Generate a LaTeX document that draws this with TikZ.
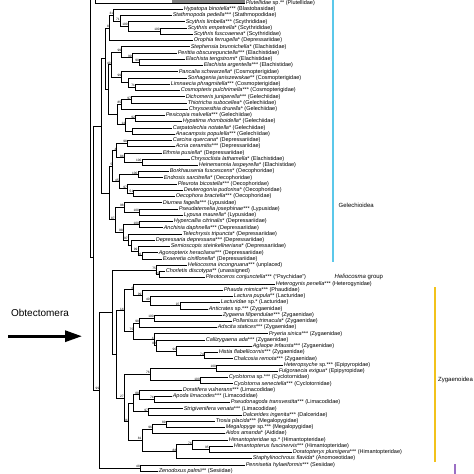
\documentclass[tikz,border=0pt]{standalone}
\usepackage{fontspec}
\setmainfont{Liberation Sans}
\usetikzlibrary{arrows.meta}
\newcommand{\taxon}[1]{\textit{#1}}
\definecolor{gelbar}{HTML}{5BC8EA}
\definecolor{zygbar}{HTML}{F2C21B}
\definecolor{sesbar}{HTML}{9B6FC4}

\begin{document}
\begin{tikzpicture}[x=1pt, y=-6.24pt,
    leaf/.style={anchor=west, inner sep=0.6pt, font=\fontsize{5.5}{6}\selectfont},
    bs/.style={font=\fontsize{3.2}{3.5}\selectfont, inner sep=0.2pt},
    br/.style={line width=0.45pt},
    cladelab/.style={anchor=west, inner sep=0.5pt, font=\fontsize{6}{7}\selectfont}]
  \useasboundingbox (0,-0.48) rectangle (474,75.48);

  % leaves, one row each
  \node[leaf] (k0) at (245,0) {\taxon{Plutellidae} sp.** (Plutellidae)};
  \node[leaf] (k1) at (183,1) {\taxon{Hypatopa binotella}*** (Blastobasidae)};
  \node[leaf] (k2) at (172,2) {\taxon{Stathmopoda pedella}*** (Stathmopodidae)};
  \node[leaf] (k3) at (185,3) {\taxon{Scythris limbella}*** (Scythrididae)};
  \node[leaf] (k4) at (187,4) {\taxon{Scythris empetrella}* (Scythrididae)};
  \node[leaf] (k5) at (193,5) {\taxon{Scythris fuscoaenea}* (Scythrididae)};
  \node[leaf] (k6) at (193,6) {\taxon{Orophia ferrugella}* (Depressariidae)};
  \node[leaf] (k7) at (190,7) {\taxon{Stephensia brunnichella}* (Elachistidae)};
  \node[leaf] (k8) at (177,8) {\taxon{Perittia obscurepunctella}*** (Elachistidae)};
  \node[leaf] (k9) at (185,9) {\taxon{Elachista tengstromi}* (Elachistidae)};
  \node[leaf] (k10) at (203,10) {\taxon{Elachista argentella}*** (Elachistidae)};
  \node[leaf] (k11) at (178,11) {\taxon{Pancalia schwarzella}* (Cosmopterigidae)};
  \node[leaf] (k12) at (187,12) {\taxon{Sorhagenia janiszewskae}** (Cosmopterigidae)};
  \node[leaf] (k13) at (170,13) {\taxon{Limnaecia phragmitella}*** (Cosmopterigidae)};
  \node[leaf] (k14) at (180,14) {\taxon{Cosmopterix pulchrimella}*** (Cosmopterigidae)};
  \node[leaf] (k15) at (185,15) {\taxon{Dichomeris juniperella}*** (Gelechiidae)};
  \node[leaf] (k16) at (187,16) {\taxon{Thiotricha subocellea}* (Gelechiidae)};
  \node[leaf] (k17) at (188,17) {\taxon{Chrysoesthia drurella}* (Gelechiidae)};
  \node[leaf] (k18) at (165,18) {\taxon{Pexicopia malvella}*** (Gelechiidae)};
  \node[leaf] (k19) at (182,19) {\taxon{Hypatima rhomboidella}* (Gelechiidae)};
  \node[leaf] (k20) at (172,20) {\taxon{Carpatolechia notatella}* (Gelechiidae)};
  \node[leaf] (k21) at (175,21) {\taxon{Anacampsis populella}*** (Gelechiidae)};
  \node[leaf] (k22) at (172,22) {\taxon{Carcina quercana}* (Depressariidae)};
  \node[leaf] (k23) at (175,23) {\taxon{Acria ceramitis}*** (Depressariidae)};
  \node[leaf] (k24) at (162,24) {\taxon{Ethmia pusiella}* (Depressariidae)};
  \node[leaf] (k25) at (190,25) {\taxon{Chrysoclista lathamella}* (Elachistidae)};
  \node[leaf] (k26) at (198,26) {\taxon{Heinemannia laspeyrella}* (Elachistidae)};
  \node[leaf] (k27) at (169,27) {\taxon{Borkhausenia fuscescens}* (Oecophoridae)};
  \node[leaf] (k28) at (163,28) {\taxon{Endrosis sarcitrella}* (Oecophoridae)};
  \node[leaf] (k29) at (177,29) {\taxon{Pleurota bicostella}*** (Oecophoridae)};
  \node[leaf] (k30) at (183,30) {\taxon{Deuterogonia pudorina}* (Oecophoridae)};
  \node[leaf] (k31) at (175,31) {\taxon{Oecophora bractella}*** (Oecophoridae)};
  \node[leaf] (k32) at (162,32) {\taxon{Diurnea fagella}*** (Lypusidae)};
  \node[leaf] (k33) at (178,33) {\taxon{Pseudatemelia josephinae}*** (Lypusidae)};
  \node[leaf] (k34) at (183,34) {\taxon{Lypusa maurella}* (Lypusidae)};
  \node[leaf] (k35) at (173,35) {\taxon{Hypercallia citrinalis}* (Depressariidae)};
  \node[leaf] (k36) at (163,36) {\taxon{Anchinia daphnella}*** (Depressariidae)};
  \node[leaf] (k37) at (182,37) {\taxon{Telechrysis tripuncta}* (Depressariidae)};
  \node[leaf] (k38) at (155,38) {\taxon{Depressaria depressana}*** (Depressariidae)};
  \node[leaf] (k39) at (170,39) {\taxon{Semioscopis steinkellneriana}* (Depressariidae)};
  \node[leaf] (k40) at (158,40) {\taxon{Agonopterix heracliana}*** (Depressariidae)};
  \node[leaf] (k41) at (162,41) {\taxon{Exaeretia ciniflonella}* (Depressariidae)};
  \node[leaf] (k42) at (187,42) {\taxon{Heliocosma incongruana}*** (unplaced)};
  \node[leaf] (k43) at (165,43) {\taxon{Chorletis discotypa}** (unassigned)};
  \node[leaf] (k44) at (205,44) {\taxon{Pleotoceros conjunctella}*** (``Psychidae'')};
  \node[leaf] (k45) at (275,45) {\taxon{Heterogynis penella}*** (Heterogynidae)};
  \node[leaf] (k46) at (223,46) {\taxon{Phauda mimica}*** (Phaudidae)};
  \node[leaf] (k47) at (233,47) {\taxon{Lactura pupula}** (Lacturidae)};
  \node[leaf] (k48) at (220,48) {\taxon{Lacturidae} sp.* (Lacturidae)};
  \node[leaf] (k49) at (208,49) {\taxon{Anticrates} sp.*** (Zygaenidae)};
  \node[leaf] (k50) at (222,50) {\taxon{Zygaena filipendulae}*** (Zygaenidae)};
  \node[leaf] (k51) at (232,51) {\taxon{Pollanisus trimacula}* (Zygaenidae)};
  \node[leaf] (k52) at (217,52) {\taxon{Adscita statices}*** (Zygaenidae)};
  \node[leaf] (k53) at (268,53) {\taxon{Pryeria sinica}*** (Zygaenidae)};
  \node[leaf] (k54) at (205,54) {\taxon{Callizygaena ada}*** (Zygaenidae)};
  \node[leaf] (k55) at (252,55) {\taxon{Aglaope infausta}*** (Zygaenidae)};
  \node[leaf] (k56) at (218,56) {\taxon{Histia flabellicornis}*** (Zygaenidae)};
  \node[leaf] (k57) at (233,57) {\taxon{Chalcosia remota}*** (Zygaenidae)};
  \node[leaf] (k58) at (283,58) {\taxon{Heteropsyche} sp.*** (Epipyropidae)};
  \node[leaf] (k59) at (278,59) {\taxon{Fulgoraecia exigua}* (Epipyropidae)};
  \node[leaf] (k60) at (228,60) {\taxon{Cyclotorna} sp.*** (Cyclotornidae)};
  \node[leaf] (k61) at (233,61) {\taxon{Cyclotorna senectella}*** (Cyclotornidae)};
  \node[leaf] (k62) at (182,62) {\taxon{Doratifera vulnerans}*** (Limacodidae)};
  \node[leaf] (k63) at (172,63) {\taxon{Apoda limacodes}*** (Limacodidae)};
  \node[leaf] (k64) at (230,64) {\taxon{Pseudonagoda transvestita}*** (Limacodidae)};
  \node[leaf] (k65) at (183,65) {\taxon{Strigivenifera venata}*** (Limacodidae)};
  \node[leaf] (k66) at (242,66) {\taxon{Dalcerides ingenita}*** (Dalceridae)};
  \node[leaf] (k67) at (215,67) {\taxon{Trosia placida}*** (Megalopygidae)};
  \node[leaf] (k68) at (225,68) {\taxon{Megalopyge} sp.*** (Megalopygidae)};
  \node[leaf] (k69) at (225,69) {\taxon{Aidos amanda}* (Aididae)};
  \node[leaf] (k70) at (228,70) {\taxon{Himantopteridae} sp.* (Himantopteridae)};
  \node[leaf] (k71) at (233,71) {\taxon{Himantopterus fuscinervis}*** (Himantopteridae)};
  \node[leaf] (k72) at (292,72) {\taxon{Doratopteryx plumigera}*** (Himantopteridae)};
  \node[leaf] (k73) at (252,73) {\taxon{Staphylinochrous flavida}* (Anomoeotidae)};
  \node[leaf] (k74) at (245,74) {\taxon{Pennisetia hylaeiformis}*** (Sesiidae)};
  \node[leaf] (k75) at (158,75) {\taxon{Zenodoxus palmii}** (Sesiidae)};

  % inner nodes, support above left
  \coordinate[label={[bs]above left:100}] (cs2) at (160,4.5);
  \coordinate[label={[bs]above left:100}] (cs1) at (128,3.75);
  \coordinate[label={[bs]above left:71}] (csta) at (120,2.875);
  \coordinate[label={[bs]above left:31}] (chyp) at (113.5,1.94);
  \coordinate[label={[bs]above left:8}] (u1) at (109.4,3.97);
  \coordinate[label={[bs]above left:99}] (e1) at (139.4,9.5);
  \coordinate[label={[bs]above left:99}] (e2) at (132,8.75);
  \coordinate[label={[bs]above left:99}] (e3) at (121.6,7.875);
  \coordinate[label={[bs]above left:71}] (co1) at (135.4,13.5);
  \coordinate (co2) at (128,12.75);
  \coordinate[label={[bs]above left:99}] (co3) at (121.6,11.875);
  \coordinate[label={[bs]above left:40}] (u2) at (111,9.875);
  \coordinate[label={[bs]above left:97}] (ge1) at (131.3,15.5);
  \coordinate[label={[bs]above left:85}] (ge2) at (121.6,16.25);
  \coordinate[label={[bs]above left:92}] (ge3) at (135.4,18.5);
  \coordinate (ge4) at (132,20.5);
  \coordinate[label={[bs]above left:14}] (ge5) at (125.6,19.5);
  \coordinate (ge6) at (117.5,17.875);
  \coordinate (u3) at (107.8,13.875);
  \coordinate (u4) at (105.4,8.92);
  \coordinate[label={[bs]above left:98}] (d1) at (127.3,22.5);
  \coordinate[label={[bs]above left:100}] (el1) at (141.8,25.5);
  \coordinate[label={[bs]above left:84}] (d2) at (124,24.75);
  \coordinate[label={[bs]above left:4}] (d3) at (116.7,23.625);
  \coordinate[label={[bs]above left:100}] (o1) at (137.8,27.5);
  \coordinate[label={[bs]above left:51}] (o2) at (133.7,30.5);
  \coordinate[label={[bs]above left:97}] (o3) at (127.3,29.75);
  \coordinate[label={[bs]above left:45}] (o4) at (119.2,28.625);
  \coordinate[label={[bs]above left:5}] (o5) at (112.7,26.125);
  \coordinate[label={[bs]above left:100}] (l1) at (139.4,33.5);
  \coordinate[label={[bs]above left:98}] (l2) at (124,32.75);
  \coordinate[label={[bs]above left:100}] (dp1) at (139.4,35.5);
  \coordinate[label={[bs]above left:96}] (dp3) at (141.8,40.5);
  \coordinate[label={[bs]above left:99}] (dp4) at (137.8,39.75);
  \coordinate (dp5) at (131.3,38.875);
  \coordinate[label={[bs]above left:97}] (dp6) at (128,37.94);
  \coordinate[label={[bs]above left:98}] (dp7) at (123.2,36.72);
  \coordinate[label={[bs]above left:87}] (dp8) at (115.1,34.73);
  \coordinate (u5) at (109.4,30.43);
  \coordinate (u6) at (101.3,19.67);
  \coordinate[label={[bs]above left:20}] (h1) at (159.7,43.5);
  \coordinate[label={[bs]above left:75}] (h2) at (156.4,42.75);
  \coordinate[label={[bs]above left:97}] (zl1) at (179.9,48.5);
  \coordinate[label={[bs]above left:40}] (zl2) at (150,47.75);
  \coordinate[label={[bs]above left:99}] (zl3) at (141.8,46.875);
  \coordinate[label={[bs]above left:6}] (zl4) at (133.7,45.94);
  \coordinate[label={[bs]above left:100}] (zy1) at (154,50.5);
  \coordinate[label={[bs]above left:98}] (zy2) at (139.4,51.25);
  \coordinate[label={[bs]above left:74}] (zy3) at (204.2,56.5);
  \coordinate[label={[bs]above left:90}] (zy4) at (176.7,55.75);
  \coordinate[label={[bs]above left:88}] (zy5) at (156.4,54.875);
  \coordinate[label={[bs]above left:4}] (zy6) at (154,53.94);
  \coordinate[label={[bs]above left:75}] (zy7) at (133.7,52.6);
  \coordinate[label={[bs]above left:14}] (zy8) at (124,49.27);
  \coordinate[label={[bs]above left:100}] (ep1) at (216.4,58.5);
  \coordinate[label={[bs]above left:100}] (cy1) at (200.2,60.5);
  \coordinate[label={[bs]above left:76}] (ep2) at (150,59.5);
  \coordinate[label={[bs]above left:74}] (li1) at (154,63.5);
  \coordinate[label={[bs]above left:88}] (li2) at (139.4,62.75);
  \coordinate[label={[bs]above left:97}] (li3) at (148.3,65.5);
  \coordinate (li4) at (133.7,64.125);
  \coordinate[label={[bs]above left:89}] (me1) at (166.1,67.5);
  \coordinate[label={[bs]above left:96}] (me2) at (152.4,68.25);
  \coordinate[label={[bs]above left:95}] (hi1) at (209,71.5);
  \coordinate[label={[bs]above left:74}] (hi2) at (192,70.75);
  \coordinate[label={[bs]above left:88}] (hi3) at (176.7,71.875);
  \coordinate[label={[bs]above left:81}] (me3) at (141.8,70.06);
  \coordinate[label={[bs]above left:84}] (li5) at (128,67.09);
  \coordinate[label={[bs]above left:27}] (li6) at (124,63.3);
  \coordinate (zg) at (115.9,56.28);
  \coordinate[label={[bs]above left:48}] (se1) at (140.2,74.5);
  \coordinate (b1) at (111.9,49.5);
  \coordinate[label={[bs]above left:99}] (b2) at (99.7,62);
  \coordinate (b3) at (93.2,40.8);
  \coordinate (top) at (90,-1);
  \coordinate (n0) at (95.7,-1);

  % branches
  \fill[gray] (172,-0.55) rectangle (245,0.15);
  \draw[br] (n0) |- (k0);
  \draw[br] (cs2) |- (k4) (cs2) |- (k5);
  \draw[br] (cs1) |- (k3) (cs1) |- (cs2);
  \draw[br] (csta) |- (k2) (csta) |- (cs1);
  \draw[br] (chyp) |- (k1) (chyp) |- (csta);
  \draw[br] (u1) |- (chyp) (u1) |- (k6);
  \draw[br] (e1) |- (k9) (e1) |- (k10);
  \draw[br] (e2) |- (k8) (e2) |- (e1);
  \draw[br] (e3) |- (k7) (e3) |- (e2);
  \draw[br] (co1) |- (k13) (co1) |- (k14);
  \draw[br] (co2) |- (k12) (co2) |- (co1);
  \draw[br] (co3) |- (k11) (co3) |- (co2);
  \draw[br] (u2) |- (e3) (u2) |- (co3);
  \draw[br] (ge1) |- (k15) (ge1) |- (k16);
  \draw[br] (ge2) |- (ge1) (ge2) |- (k17);
  \draw[br] (ge3) |- (k18) (ge3) |- (k19);
  \draw[br] (ge4) |- (k20) (ge4) |- (k21);
  \draw[br] (ge5) |- (ge3) (ge5) |- (ge4);
  \draw[br] (ge6) |- (ge2) (ge6) |- (ge5);
  \draw[br] (u3) |- (u2) (u3) |- (ge6);
  \draw[br] (u4) |- (u1) (u4) |- (u3);
  \draw[br] (d1) |- (k22) (d1) |- (k23);
  \draw[br] (el1) |- (k25) (el1) |- (k26);
  \draw[br] (d2) |- (k24) (d2) |- (el1);
  \draw[br] (d3) |- (d1) (d3) |- (d2);
  \draw[br] (o1) |- (k27) (o1) |- (k28);
  \draw[br] (o2) |- (k30) (o2) |- (k31);
  \draw[br] (o3) |- (k29) (o3) |- (o2);
  \draw[br] (o4) |- (o1) (o4) |- (o3);
  \draw[br] (o5) |- (d3) (o5) |- (o4);
  \draw[br] (l1) |- (k33) (l1) |- (k34);
  \draw[br] (l2) |- (k32) (l2) |- (l1);
  \draw[br] (dp1) |- (k35) (dp1) |- (k36);
  \draw[br] (dp3) |- (k40) (dp3) |- (k41);
  \draw[br] (dp4) |- (k39) (dp4) |- (dp3);
  \draw[br] (dp5) |- (k38) (dp5) |- (dp4);
  \draw[br] (dp6) |- (k37) (dp6) |- (dp5);
  \draw[br] (dp7) |- (dp1) (dp7) |- (dp6);
  \draw[br] (dp8) |- (l2) (dp8) |- (dp7);
  \draw[br] (u5) |- (o5) (u5) |- (dp8);
  \draw[br] (u6) |- (u4) (u6) |- (u5);
  \draw[br] (h1) |- (k43) (h1) |- (k44);
  \draw[br] (h2) |- (k42) (h2) |- (h1);
  \draw[br] (zl1) |- (k48) (zl1) |- (k49);
  \draw[br] (zl2) |- (k47) (zl2) |- (zl1);
  \draw[br] (zl3) |- (k46) (zl3) |- (zl2);
  \draw[br] (zl4) |- (k45) (zl4) |- (zl3);
  \draw[br] (zy1) |- (k50) (zy1) |- (k51);
  \draw[br] (zy2) |- (zy1) (zy2) |- (k52);
  \draw[br] (zy3) |- (k56) (zy3) |- (k57);
  \draw[br] (zy4) |- (k55) (zy4) |- (zy3);
  \draw[br] (zy5) |- (k54) (zy5) |- (zy4);
  \draw[br] (zy6) |- (k53) (zy6) |- (zy5);
  \draw[br] (zy7) |- (zy2) (zy7) |- (zy6);
  \draw[br] (zy8) |- (zl4) (zy8) |- (zy7);
  \draw[br] (ep1) |- (k58) (ep1) |- (k59);
  \draw[br] (cy1) |- (k60) (cy1) |- (k61);
  \draw[br] (ep2) |- (ep1) (ep2) |- (cy1);
  \draw[br] (li1) |- (k63) (li1) |- (k64);
  \draw[br] (li2) |- (k62) (li2) |- (li1);
  \draw[br] (li3) |- (k65) (li3) |- (k66);
  \draw[br] (li4) |- (li2) (li4) |- (li3);
  \draw[br] (me1) |- (k67) (me1) |- (k68);
  \draw[br] (me2) |- (me1) (me2) |- (k69);
  \draw[br] (hi1) |- (k71) (hi1) |- (k72);
  \draw[br] (hi2) |- (k70) (hi2) |- (hi1);
  \draw[br] (hi3) |- (hi2) (hi3) |- (k73);
  \draw[br] (me3) |- (me2) (me3) |- (hi3);
  \draw[br] (li5) |- (li4) (li5) |- (me3);
  \draw[br] (li6) |- (ep2) (li6) |- (li5);
  \draw[br] (zg) |- (zy8) (zg) |- (li6);
  \draw[br] (se1) |- (k74) (se1) |- (k75);
  \draw[br] (b1) |- (h2) (b1) |- (zg);
  \draw[br] (b2) |- (b1) (b2) |- (se1);
  \draw[br] (b3) |- (u6) (b3) |- (b2);
  \draw[br] (top) |- (b3);

  % clade bars and names
  \fill[gelbar] (332,-0.6) rectangle (334,41.5);
  \node[cladelab] (gel) at (338,32.4) {Gelechioidea};
  \node[cladelab] (hel) at (334,43.9) {\taxon{Heliocosma} group};
  \fill[zygbar] (434,45.5) rectangle (436,73.5);
  \node[cladelab] (zyg) at (437.5,60.4) {Zygaenoidea};
  \fill[sesbar] (454,73.8) rectangle (456,75.6);

  % Obtectomera arrow
  \node[font=\fontsize{10}{11}\selectfont] (obt) at (40,49.7) {Obtectomera};
  \coordinate (obs) at (8,53.4);
  \coordinate (obe) at (82,53.4);
  \draw[line width=3pt, -{Triangle[length=17pt,width=11pt]}] (obs) -- (obe);
\end{tikzpicture}
\end{document}
